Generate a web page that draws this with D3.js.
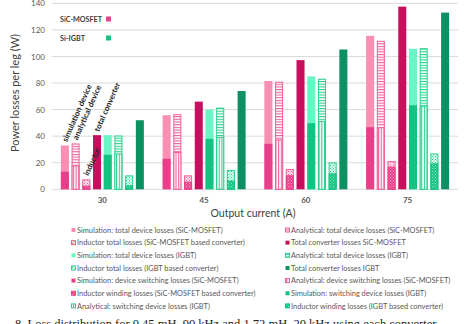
<!DOCTYPE html>
<html><head><meta charset="utf-8">
<script src="https://cdn.jsdelivr.net/npm/d3@7"></script>
<style>body{margin:0;background:#fff}svg{display:block;font-family:Lato,"Open Sans",sans-serif}</style>
</head><body><svg id="c" width="474" height="324"></svg>
<script>
const categories = ["30","45","60","75"];
const simSiCTotal = [33, 55.75, 81.5, 115.5];
const simSiCSw    = [13.25, 23, 34.25, 46.75];
const anaSiCTotal = [34.5, 56.5, 81, 111.75];
const anaSiCSw    = [18, 28, 37.5, 46.75];
const indSiCTotal = [7.5, 10.5, 15.25, 21.25];
const indSiCWind  = [2.75, 5.75, 10.5, 17];
const totSiC      = [40.75, 66, 97.25, 137.5];
const simIGBTTotal = [40.75, 60, 85, 105.75];
const simIGBTSw    = [26, 38, 49.75, 63.25];
const anaIGBTTotal = [40.5, 61.5, 83.25, 106.25];
const anaIGBTSw    = [27, 39.5, 51.5, 63];
const indIGBTTotal = [10.5, 14.5, 20.25, 27];
const indIGBTWind  = [3, 6.5, 12, 19.5];
const totIGBT      = [52, 74, 105.25, 133];
const yTicks = [0,20,40,60,80,100,120,140];
const annotations = ["simulation device","analytical device","inductor","total converter"];
const legendLeft = ["Simulation: total device losses (SiC-MOSFET)","Inductor total losses (SiC-MOSFET based converter)","Simulation: total device losses (IGBT)","Inductor total losses (IGBT based converter)","Simulation: device switching losses (SiC-MOSFET)","Inductor winding losses (SiC-MOSFET based converter)","Analytical: switching device losses (IGBT)"];
const legendLeftFill = ["simSiCT","indSiCT","simIGBTT","indIGBTT","simSiCS","indSiCW","anaIGBTS"];
const legendRight = ["Analytical: total device losses (SiC-MOSFET)","Total converter losses SiC-MOSFET","Analytical: total device losses (IGBT)","Total converter losses IGBT","Analytical: device switching losses (SiC-MOSFET)","Simulation: switching device losses (IGBT)","Inductor winding losses (IGBT based converter)"];
const legendRightFill = ["anaSiCT","totSiC","anaIGBTT","totIGBT","anaSiCS","simIGBTS","indIGBTW"];

const C = {pinkL:"#f98fb3", pink:"#e83f8b", pinkS:"#ee5f98", crimson:"#c80f5e",
           mintL:"#6af5c4", green:"#14c281", greenS:"#2ccf8e", dgreen:"#0e9162"};

const svg = d3.select("#c");
const defs = svg.append("defs");
function hStripe(id, col){ const p=defs.append("pattern").attr("id",id).attr("patternUnits","userSpaceOnUse").attr("width",4).attr("height",2.7);
  p.append("rect").attr("width",4).attr("height",2.7).attr("fill","#fff");
  p.append("rect").attr("width",4).attr("height",1.1).attr("fill",col); }
function vStripe(id, col){ const p=defs.append("pattern").attr("id",id).attr("patternUnits","userSpaceOnUse").attr("width",2.7).attr("height",4);
  p.append("rect").attr("width",2.7).attr("height",4).attr("fill","#fff");
  p.append("rect").attr("width",1.1).attr("height",4).attr("fill",col); }
function dots(id, bg, col){ const p=defs.append("pattern").attr("id",id).attr("patternUnits","userSpaceOnUse").attr("width",3).attr("height",3);
  p.append("rect").attr("width",3).attr("height",3).attr("fill",bg);
  p.append("rect").attr("x",0).attr("y",0).attr("width",1).attr("height",1).attr("fill",col);
  p.append("rect").attr("x",1.5).attr("y",1.5).attr("width",1).attr("height",1).attr("fill",col); }
hStripe("hPink", C.pinkS); vStripe("vPink", C.pinkS);
hStripe("hGreen", C.greenS); vStripe("vGreen", C.greenS);
dots("dPinkL", "#fde3ee", C.pinkS); dots("dPink", C.pink, "#f7a6c8");
dots("dGreenL", "#dcfbee", C.greenS); dots("dGreen", C.green, "#8de8c3");

const fills = {simSiCT:C.pinkL, simSiCS:C.pink, anaSiCT:"url(#hPink)", anaSiCS:"url(#vPink)",
  indSiCT:"url(#dPinkL)", indSiCW:"url(#dPink)", totSiC:C.crimson,
  simIGBTT:C.mintL, simIGBTS:C.green, anaIGBTT:"url(#hGreen)", anaIGBTS:"url(#vGreen)",
  indIGBTT:"url(#dGreenL)", indIGBTW:"url(#dGreen)", totIGBT:C.dgreen};
const strokes = {anaSiCT:C.pinkS, anaSiCS:C.pinkS, indSiCT:C.pinkS, indSiCW:C.pink,
  anaIGBTT:C.greenS, anaIGBTS:C.greenS, indIGBTT:C.greenS, indIGBTW:C.green};

const x0 = d3.scaleBand().domain(categories).range([51.5, 458.5]);
const slots = ["simSiC","anaSiC","indSiC","totSiC","simIGBT","anaIGBT","indIGBT","totIGBT"];
const x1 = d3.scaleBand().domain(slots).range([0, 83]).paddingInner(0.25);
const y = d3.scaleLinear().domain([0,140]).range([189.3, 3.3]);

// grid
svg.append("g").selectAll("line").data(yTicks).join("line")
  .attr("x1",52).attr("x2",458).attr("y1",d=>y(d)).attr("y2",d=>y(d))
  .attr("stroke","#d9d9d9").attr("stroke-width",1);
// y tick labels
const ya = svg.append("g").attr("transform","translate(52,0)")
  .call(d3.axisLeft(y).tickValues(yTicks).tickSize(0).tickPadding(7));
ya.select(".domain").remove();
ya.selectAll("text").attr("fill","#595959").style("font-size","8px").style("font-family","Lato,sans-serif");
// x labels
const xa = svg.append("g").attr("transform","translate(0,195)")
  .call(d3.axisBottom(x0).tickSize(0).tickPadding(2));
xa.select(".domain").remove();
xa.selectAll("text").attr("fill","#595959").style("font-size","8px").style("font-weight","bold").style("font-family","Lato,sans-serif");

const stacks = [
  ["simSiC", simSiCTotal, "simSiCT", simSiCSw, "simSiCS"],
  ["anaSiC", anaSiCTotal, "anaSiCT", anaSiCSw, "anaSiCS"],
  ["indSiC", indSiCTotal, "indSiCT", indSiCWind, "indSiCW"],
  ["totSiC", totSiC, "totSiC", null, null],
  ["simIGBT", simIGBTTotal, "simIGBTT", simIGBTSw, "simIGBTS"],
  ["anaIGBT", anaIGBTTotal, "anaIGBTT", anaIGBTSw, "anaIGBTS"],
  ["indIGBT", indIGBTTotal, "indIGBTT", indIGBTWind, "indIGBTW"],
  ["totIGBT", totIGBT, "totIGBT", null, null]];
const bw = x1.bandwidth();
const off = (x0.bandwidth() - 83)/2;
const bars = svg.append("g");
stacks.forEach(([slot, tot, tk, sub, sk]) => {
  categories.forEach((cat,i) => {
    const bx = x0(cat) + off + x1(slot);
    const s = strokes[tk];
    bars.append("rect").attr("x", s? bx+0.5:bx).attr("width", s? bw-1:bw)
      .attr("y", y(tot[i]) + (s?0.5:0)).attr("height", y(0)-y(tot[i]) - (s?0.5:0))
      .attr("fill", fills[tk]).attr("stroke", s||"none").attr("stroke-width", s?1:0);
    if (sub) {
      const s2 = strokes[sk];
      bars.append("rect").attr("x", s2? bx+0.5:bx).attr("width", s2? bw-1:bw)
        .attr("y", y(sub[i]) + (s2?0.5:0)).attr("height", y(0)-y(sub[i]) - (s2?0.5:0))
        .attr("fill", fills[sk]).attr("stroke", s2||"none").attr("stroke-width", s2?1:0);
    }
  });
});

// rotated annotations on first group
const annSlots = [["simSiC", simSiCTotal[0]],["anaSiC", anaSiCTotal[0]],["indSiC", indSiCTotal[0]],["totSiC", totSiC[0]]];
annSlots.forEach(([slot,v],k) => {
  const ax = x0(categories[0]) + off + x1(slot) + bw/2 + 2;
  const ay = y(v) - 3;
  svg.append("text").attr("transform",`translate(${ax},${ay}) rotate(-66)`)
    .attr("fill","#262626").style("font-size","8px").style("font-weight","bold")
    .text(annotations[k]);
});

// in-plot legend
const inLeg = [["SiC-MOSFET", C.pink, 19],["Si-IGBT", C.green, 38]];
inLeg.forEach(([t,c,yy]) => {
  svg.append("text").attr("x",60).attr("y",yy+3).attr("fill","#404040")
    .attr("textLength", t.length>8? 42 : 25).attr("lengthAdjust","spacingAndGlyphs")
    .style("font-size","8px").style("font-weight","bold").text(t);
  svg.append("rect").attr("x",106).attr("y",yy-2.5).attr("width",5).attr("height",5).attr("fill",c);
});

// axis titles
svg.append("text").attr("transform","translate(18.5,93) rotate(-90)").attr("text-anchor","middle")
  .attr("fill","#404040").style("font-size","11px").text("Power losses per leg (W)");
svg.append("text").attr("x",253).attr("y",217).attr("text-anchor","middle")
  .attr("fill","#404040").style("font-size","10.5px").text("Output current (A)");

// bottom legend
function legCol(labels, keys, sx){
  labels.forEach((t,i)=>{
    const yy = 230 + i*12.65;
    const k = keys[i], s = strokes[k];
    svg.append("rect").attr("x",sx+0.5).attr("y",yy-2).attr("width",4).attr("height",4)
      .attr("fill",fills[k]).attr("stroke",s||"none").attr("stroke-width",s?1:0);
    svg.append("text").attr("x",sx+6).attr("y",yy+2.6).attr("fill","#595959")
      .style("font-size","7.4px").text(t);
  });
}
legCol(legendLeft, legendLeftFill, 71);
legCol(legendRight, legendRightFill, 285);

// caption (cut at the bottom of the picture, as in the reference)
svg.append("text").attr("x",15).attr("y",327.5).attr("fill","#222")
  .style("font-family","'Liberation Serif','DejaVu Serif',serif").style("font-size","12.5px")
  .text("8. Loss distribution for 0.45 mH, 90 kHz and 1.72 mH, 20 kHz using each converter");
</script></body></html>
